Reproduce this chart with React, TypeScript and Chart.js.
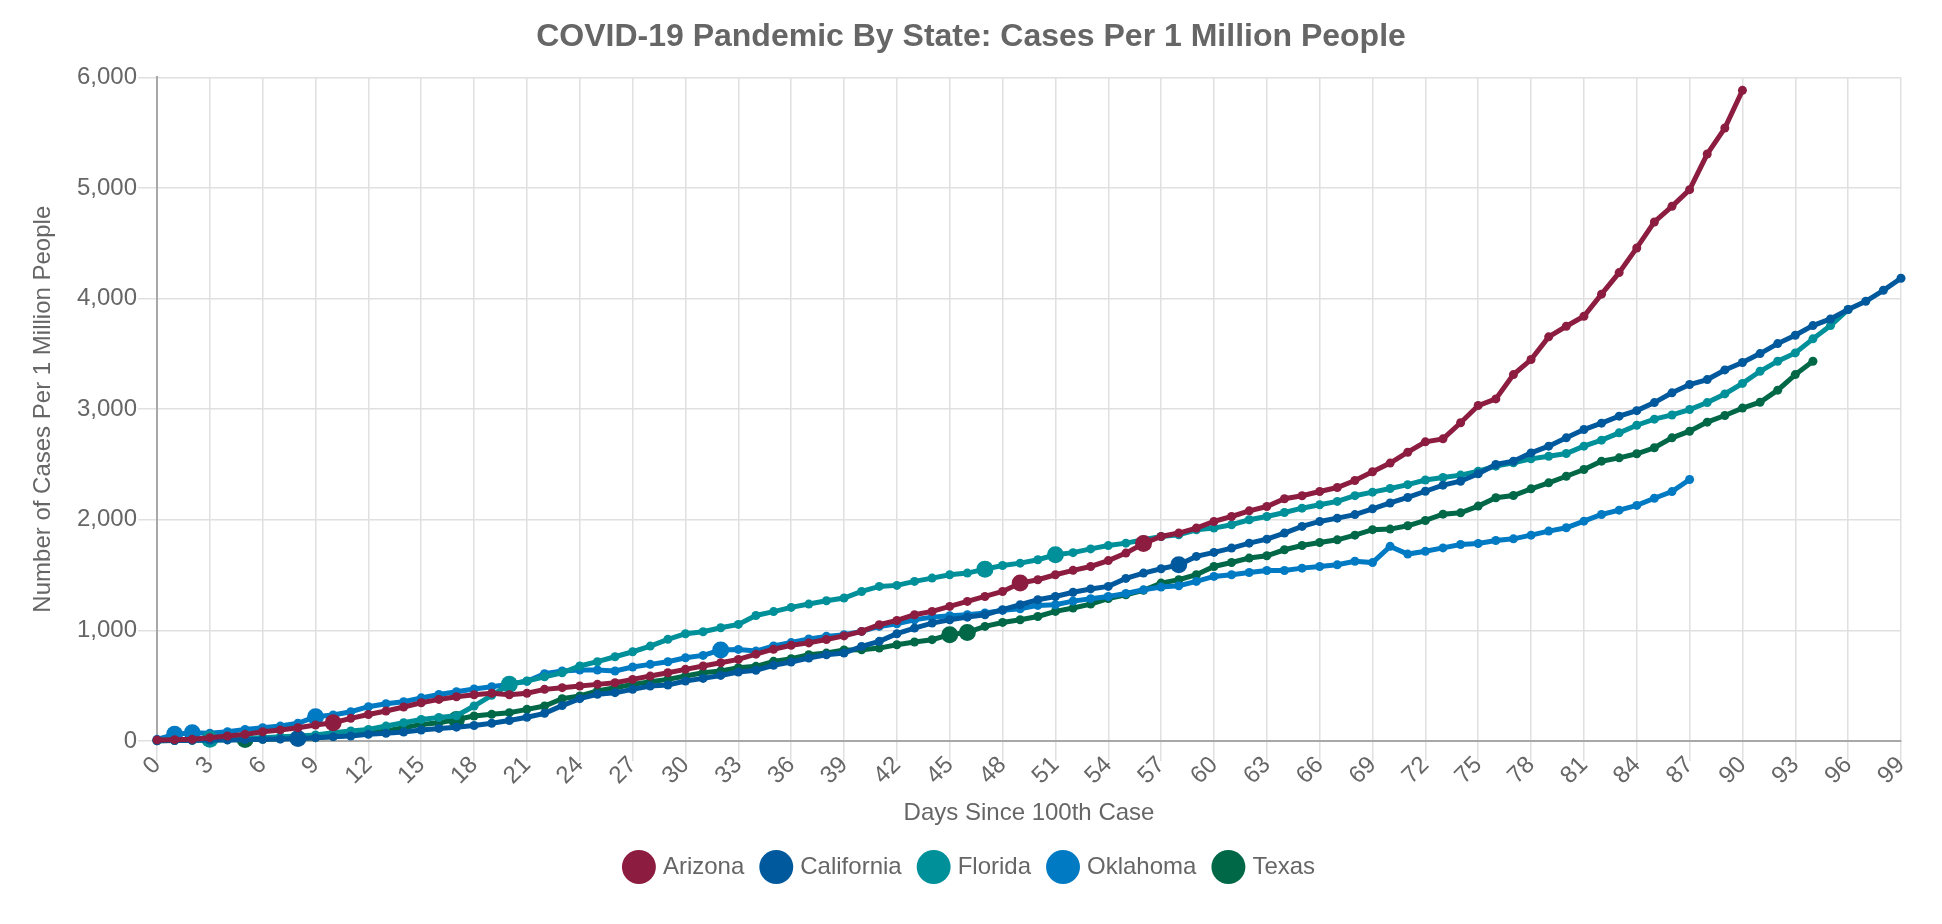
import { useEffect, useRef } from "react";
import { Chart, registerables } from "chart.js";

Chart.register(...registerables);

// Days since each state's 100th confirmed case
const days: string[] = Array.from({ length: 100 }, (_, i) => String(i));

// Cumulative cases per 1 million residents, one value per day
const arizona = [
  10, 12, 15, 30, 45, 60, 84, 100, 120, 145,
  165, 205, 240, 271, 307, 346, 376, 400, 418, 432,
  418, 432, 467, 482, 497, 512, 527, 557, 587, 617,
  648, 678, 708, 738, 785, 830, 865, 887, 918, 950,
  991, 1051, 1090, 1142, 1172, 1217, 1262, 1307, 1352, 1428,
  1458, 1503, 1543, 1578, 1631, 1699, 1786, 1849, 1880, 1925,
  1985, 2030, 2081, 2120, 2190, 2217, 2256, 2292, 2355, 2434,
  2513, 2611, 2705, 2732, 2877, 3033, 3093, 3313, 3449, 3654,
  3750, 3840, 4040, 4235, 4458, 4693, 4834, 4985, 5307, 5542,
  5883,
];

const california = [
  2, 4, 6, 8, 10, 12, 15, 18, 22, 30,
  39, 45, 60, 69, 81, 99, 114, 125, 140, 160,
  185, 215, 250, 320, 383, 422, 437, 467, 497, 506,
  542, 566, 593, 623, 640, 684, 714, 750, 780, 795,
  855, 901, 970, 1021, 1066, 1096, 1120, 1142, 1187, 1232,
  1277, 1307, 1345, 1375, 1398, 1470, 1518, 1557, 1593, 1669,
  1705, 1744, 1789, 1825, 1880, 1940, 1985, 2015, 2047, 2099,
  2152, 2202, 2258, 2313, 2349, 2416, 2500, 2530, 2605, 2666,
  2741, 2816, 2874, 2937, 2987, 3060, 3148, 3223, 3268, 3355,
  3422, 3503, 3593, 3669, 3756, 3816, 3901, 3976, 4075, 4184,
];

const florida = [
  5, 8, 12, 15, 20, 25, 30, 38, 45, 55,
  75, 90, 105, 135, 165, 195, 212, 228, 316, 413,
  512, 542, 580, 617, 678, 717, 762, 807, 858, 919,
  970, 988, 1024, 1054, 1135, 1170, 1208, 1238, 1268, 1293,
  1352, 1398, 1407, 1443, 1473, 1503, 1518, 1554, 1587, 1608,
  1639, 1684, 1703, 1737, 1767, 1789, 1819, 1849, 1864, 1910,
  1925, 1955, 2000, 2030, 2066, 2105, 2136, 2166, 2218, 2250,
  2283, 2318, 2360, 2382, 2404, 2440, 2485, 2515, 2551, 2575,
  2599, 2666, 2720, 2786, 2855, 2910, 2948, 2997, 3060, 3138,
  3233, 3343, 3434, 3509, 3636, 3756, 3901,
];

const oklahoma = [
  15, 60, 75, 70, 84, 105, 120, 135, 160, 220,
  235, 265, 310, 337, 355, 390, 420, 445, 470, 490,
  514, 540, 608, 633, 642, 642, 633, 669, 693, 717,
  753, 774, 822, 828, 813, 860, 890, 922, 946, 961,
  991, 1036, 1060, 1096, 1120, 1133, 1142, 1157, 1181, 1196,
  1226, 1232, 1265, 1287, 1307, 1334, 1367, 1392, 1404, 1443,
  1488, 1503, 1524, 1542, 1542, 1563, 1578, 1593, 1625, 1613,
  1760, 1690, 1715, 1746, 1777, 1786, 1813, 1828, 1861, 1898,
  1928, 1988, 2048, 2087, 2130, 2195, 2255, 2364,
];

const texas = [
  3, 5, 7, 9, 11, 13, 16, 20, 25, 30,
  40, 55, 70, 90, 120, 150, 165, 195, 226, 241,
  256, 286, 316, 383, 407, 452, 482, 512, 536, 557,
  587, 617, 633, 663, 675, 720, 744, 780, 795, 823,
  825, 840, 870, 895, 916, 961, 982, 1036, 1072, 1096,
  1126, 1172, 1202, 1238, 1288, 1322, 1362, 1428, 1458, 1503,
  1578, 1614, 1654, 1675, 1729, 1768, 1795, 1819, 1861, 1911,
  1916, 1946, 1994, 2051, 2063, 2124, 2199, 2220, 2280, 2334,
  2394, 2455, 2530, 2560, 2597, 2651, 2741, 2801, 2883, 2943,
  3010, 3063, 3172, 3313, 3434,
];

// Days drawn with an enlarged marker on each line
const arizonaMarked = [10, 49, 56];
const californiaMarked = [8, 58];
const floridaMarked = [3, 20, 47, 51];
const oklahomaMarked = [1, 2, 9, 32];
const texasMarked = [5, 17, 45, 46];

const stateNames = ["Arizona", "California", "Florida", "Oklahoma", "Texas"];
const stateColors = ["#8c1d40", "#00599c", "#00909a", "#007ac2", "#006847"];

const TEXT = "#666666";
const GRID = "#e0e0e0";
const AXIS = "#a8a8a8";

export default function App() {
  const canvasRef = useRef<HTMLCanvasElement | null>(null);

  useEffect(() => {
    if (!canvasRef.current) return;
    Chart.defaults.font.family = "'Liberation Sans', Arial, Helvetica, sans-serif";

    const series = [arizona, california, florida, oklahoma, texas];
    const marked = [arizonaMarked, californiaMarked, floridaMarked, oklahomaMarked, texasMarked];

    const datasets = series.map((values, k) => {
      const radii = values.map((_, i) => (marked[k].includes(i) ? 8.5 : 4.5));
      return {
        label: stateNames[k],
        data: values,
        borderColor: stateColors[k],
        backgroundColor: stateColors[k],
        pointBackgroundColor: stateColors[k],
        pointBorderWidth: 0,
        borderWidth: 5,
        tension: 0,
        clip: false as const,
        pointRadius: radii,
        pointHoverRadius: radii,
      };
    });

    const chart = new Chart(canvasRef.current, {
      type: "line",
      data: { labels: days, datasets },
      options: {
        animation: false,
        responsive: true,
        maintainAspectRatio: false,
        layout: { padding: { left: 0, right: 0, top: 0, bottom: 27 } },
        plugins: {
          title: {
            display: true,
            text: "COVID-19 Pandemic By State: Cases Per 1 Million People",
            color: TEXT,
            font: { size: 32, weight: "bold" },
            padding: { top: 10, bottom: 21 },
          },
          legend: {
            position: "bottom",
            labels: {
              usePointStyle: true,
              pointStyle: "circle",
              color: TEXT,
              font: { size: 24 },
              padding: 20,
            },
          },
          tooltip: { enabled: false },
        },
        scales: {
          x: {
            type: "category",
            grid: { color: GRID, lineWidth: 1.5, tickLength: 20, tickColor: GRID },
            border: { color: AXIS, width: 2 },
            ticks: {
              autoSkip: false,
              minRotation: 45,
              maxRotation: 45,
              padding: -10,
              color: TEXT,
              font: { size: 24 },
              callback: (_v: any, i: number) => (i % 3 === 0 ? days[i] : null),
            },
            title: {
              display: true,
              text: "Days Since 100th Case",
              color: TEXT,
              font: { size: 24 },
              padding: { top: 0, bottom: 7 },
            },
            afterFit: (s: any) => {
              s.height = 94;
            },
          },
          y: {
            min: 0,
            max: 6000,
            grid: { color: GRID, lineWidth: 1.5, tickLength: 19, tickColor: GRID },
            border: { color: AXIS, width: 2 },
            ticks: {
              stepSize: 1000,
              padding: 1,
              color: TEXT,
              font: { size: 24 },
              callback: (v: any) => Number(v).toLocaleString("en-US"),
            },
            title: {
              display: true,
              text: "Number of Cases Per 1 Million People",
              color: TEXT,
              font: { size: 24 },
              padding: { top: 21, bottom: 0 },
            },
            afterFit: (s: any) => {
              s.width = 149;
            },
          },
          yRightMargin: {
            position: "right",
            display: true,
            grid: { display: false },
            ticks: { display: false },
            border: { display: false },
            afterFit: (s: any) => {
              s.width = 33;
            },
          },
        },
      } as any,
    });

    return () => chart.destroy();
  }, []);

  return (
    <div style={{ position: "relative", width: 1926, height: 908 }}>
      <canvas ref={canvasRef} />
    </div>
  );
}
